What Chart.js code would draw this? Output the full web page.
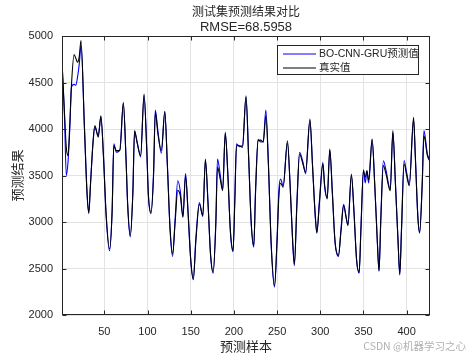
<!DOCTYPE html>
<html>
<head>
<meta charset="utf-8">
<script src="https://cdn.jsdelivr.net/npm/chart.js@4/dist/chart.umd.min.js"></script>
<style>
html,body{margin:0;padding:0;background:#fff;}
#wrap{width:474px;height:355px;}
</style>
</head>
<body>
<div id="wrap"><canvas id="c" width="474" height="355"></canvas></div>
<script>
const titleText = '测试集预测结果对比';
const subtitleText = 'RMSE=68.5958';
const xTitle = '预测样本';
const yTitle = '预测结果';
const predLabel = 'BO-CNN-GRU预测值';
const trueLabel = '真实值';
const watermark = 'CSDN @机器学习之心';

const xTicks = [50,100,150,200,250,300,350,400];

const samples = [1,4,6,8,10,12,15,17,19,21,23,27,30,32,34,37,39,43,46,49,52,56,59,61,64,68,72,75,77,80,83,85,88,92,96,99,101,104,107,109,112,116,120,123,126,129,132,135,138,141,144,147,150,153,156,160,164,167,170,173,176,179,181,184,187,190,193,196,199,201,203,207,210,214,217,220,223,225,228,231,234,237,240,243,247,250,252,254,257,262,265,268,270,273,276,280,283,288,291,294,296,299,303,305,308,311,314,317,321,324,327,330,332,336,339,342,345,347,350,352,354,356,360,363,366,368,370,373,376,381,384,387,390,392,394,397,400,403,408,410,413,415,418,420,424,427];

const trueValues = [4734,4150,3800,3713,4050,4480,4800,4760,4717,4780,4950,4000,3300,3104,3400,3874,4036,3911,4143,3700,3100,2710,3100,3820,3767,3767,4287,3700,3200,2853,3300,3982,3850,3713,4376,3800,3300,3104,3500,4180,3950,3767,4190,3600,2950,2656,3000,3340,3280,3050,3498,3100,2600,2387,2800,3194,3068,3677,3200,2650,2459,2950,3590,3470,3337,3964,3500,2900,2692,3200,3820,3820,3803,4358,3700,3000,2745,3300,3874,3880,3857,4143,3600,2800,2315,2800,3266,3420,3373,3874,3400,2800,2548,3200,3731,3620,3534,4108,3600,3100,2889,3200,3624,3400,3247,3785,3300,2800,2638,2900,3176,3050,2961,3516,3100,2600,2459,2900,3552,3480,3552,3450,3892,3400,2800,2477,3000,3606,3520,3337,3982,3400,2800,2441,2900,3624,3500,3391,4126,3700,3050,2889,3400,3928,3713,3650];

const predValues = [4720,4100,3498,3650,4000,4450,4480,4470,4560,4700,4900,4020,3320,3090,3420,3860,4020,3930,4130,3720,3080,2690,3120,3840,3750,3780,4270,3720,3180,2840,3320,3970,3860,3700,4360,3820,3280,3090,3540,4204,3980,3740,4180,3620,2930,2630,3040,3444,3330,3060,3520,3080,2590,2380,2830,3210,3060,3660,3220,2640,2450,2990,3677,3520,3350,3950,3520,2880,2680,3230,3840,3810,3820,4340,3720,2990,2730,3330,3890,3860,3870,4204,3620,2780,2300,2830,3330,3462,3390,3850,3420,2790,2530,3230,3750,3640,3520,4090,3620,3080,2880,3230,3640,3380,3260,3770,3320,2790,2630,2930,3190,3040,2970,3500,3120,2590,2450,2930,3560,3420,3540,3420,3880,3420,2790,2470,3030,3659,3560,3350,3960,3420,2790,2430,2930,3660,3530,3400,4100,3720,3040,2880,3430,3982,3730,3660];

const toPts = vals => samples.map((s,i)=>({x:s,y:vals[i]}));

const AX = '#262626';
const FONT_CJK = '"Noto Sans CJK SC", "Noto Sans", sans-serif';
const FONT_LAT = '"Liberation Sans", "Noto Sans CJK SC", sans-serif';

const framePlugin = {
  id: 'frame',
  afterDraw(chart){
    const {ctx, chartArea:a, scales:{x,y}} = chart;
    ctx.save();
    const L = Math.round(a.left)+0.5, R = Math.round(a.right)-0.5, T = Math.round(a.top)+0.5, B = Math.round(a.bottom)-0.5;
    ctx.strokeStyle = AX; ctx.lineWidth = 1;
    ctx.strokeRect(L, T, R-L, B-T);
    ctx.beginPath();
    xTicks.forEach(v=>{
      const px = Math.round(x.getPixelForValue(v))+0.5;
      ctx.moveTo(px,B); ctx.lineTo(px,B-4);
      ctx.moveTo(px,T); ctx.lineTo(px,T+4);
    });
    y.ticks.forEach(t=>{
      const py = Math.round(y.getPixelForValue(t.value))+0.5;
      ctx.moveTo(L,py); ctx.lineTo(L+4,py);
      ctx.moveTo(R,py); ctx.lineTo(R-4,py);
    });
    ctx.stroke();
    const cx = (a.left+a.right)/2;
    ctx.fillStyle = AX;
    ctx.textAlign = 'center'; ctx.textBaseline = 'middle';
    ctx.font = '12px ' + FONT_CJK;
    ctx.fillText(titleText, cx, 11);
    ctx.font = '13px ' + FONT_LAT;
    ctx.fillText(subtitleText, cx, 27);
    const lx = 277.5, ly = 45.5, lw = 141, lh = 29;
    ctx.fillStyle = '#fff';
    ctx.fillRect(lx, ly, lw, lh);
    ctx.strokeStyle = AX; ctx.lineWidth = 1;
    ctx.strokeRect(lx, ly, lw, lh);
    const items = [[predLabel, chart.data.datasets[0].borderColor, 54], [trueLabel, chart.data.datasets[1].borderColor, 68]];
    items.forEach(([lab,col,yy])=>{
      ctx.strokeStyle = col; ctx.lineWidth = 1.1;
      ctx.beginPath(); ctx.moveTo(283, yy); ctx.lineTo(316, yy); ctx.stroke();
      ctx.fillStyle = AX; ctx.textAlign = 'left';
      ctx.font = '10.5px ' + FONT_LAT;
      ctx.fillText(lab, 319, yy+0.5);
    });
    ctx.fillStyle = 'rgba(150,150,150,0.75)';
    ctx.font = '10.5px ' + FONT_CJK;
    ctx.textAlign = 'right';
    ctx.fillText(watermark, 466, 346);
    ctx.restore();
  }
};

new Chart(document.getElementById('c'), {
  type: 'line',
  data: {
    datasets: [
      {label: predLabel, data: toPts(predValues), borderColor: '#0000ff', borderWidth: 1.1, pointRadius: 0, cubicInterpolationMode: 'monotone', fill: false, order: 1},
      {label: trueLabel, data: toPts(trueValues), borderColor: '#000000', borderWidth: 1.1, pointRadius: 0, cubicInterpolationMode: 'monotone', fill: false, order: 0}
    ]
  },
  options: {
    responsive: false,
    animation: false,
    layout: {padding: {top: 36, right: 44, left: 0, bottom: 0}},
    plugins: {legend: {display: false}, tooltip: {enabled: false}, title: {display: false}},
    scales: {
      x: {
        type: 'linear', min: 1, max: 427,
        afterBuildTicks: s => { s.ticks = xTicks.map(v=>({value:v})); },
        afterFit: s => { s.height = 40; },
        grid: {color: '#e3e3e3', drawTicks: false},
        border: {display: false},
        ticks: {color: AX, font: {family: FONT_LAT, size: 11}, padding: 10, maxRotation: 0, callback: v => String(v)},
        title: {display: true, text: xTitle, color: AX, font: {family: FONT_CJK, size: 13}, padding: {top: 0, bottom: 1}}
      },
      y: {
        min: 2000, max: 5000,
        afterFit: s => { s.width = 62; },
        grid: {color: '#e3e3e3', drawTicks: false},
        border: {display: false},
        ticks: {stepSize: 500, color: AX, font: {family: FONT_LAT, size: 11}, padding: 9, callback: v => String(v)},
        title: {display: true, text: yTitle, color: AX, font: {family: FONT_CJK, size: 13}, padding: {top: 9, bottom: 0}}
      }
    }
  },
  plugins: [framePlugin]
});
</script>
</body>
</html>
